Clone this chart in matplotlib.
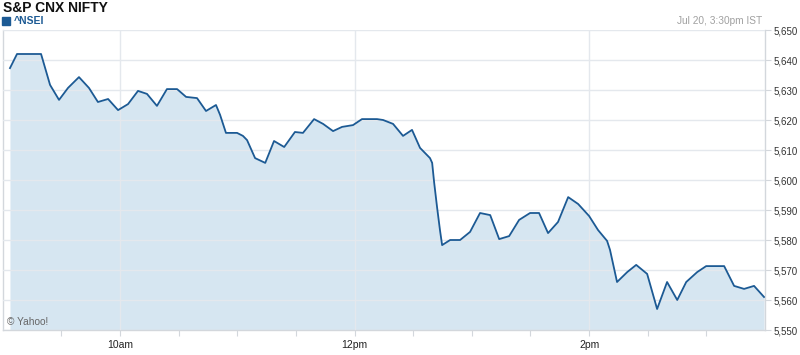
import numpy as np
import matplotlib
matplotlib.use("Agg")
import matplotlib.pyplot as plt
from matplotlib.ticker import FixedLocator, FuncFormatter

plt.rcParams['font.family'] = ['Liberation Sans', 'DejaVu Sans']

# minutes after 9:00 and index level
minutes = [3.7, 7.3, 19.6, 24.2, 28.8, 33.4, 39.0, 44.1, 48.7, 53.9,
           59.0, 64.1, 69.2, 73.8, 78.9, 84.0, 89.2, 93.8, 99.4, 104.0,
           109.1, 111.2, 114.2, 119.9, 122.9, 125.0, 129.1, 134.3, 138.8, 144.0,
           149.5, 153.6, 159.3, 163.9, 169.0, 173.6, 179.2, 183.8, 191.5, 194.6,
           199.7, 204.8, 209.4, 213.5, 218.6, 219.7, 220.7, 222.2, 223.7, 224.8,
           228.9, 234.0, 239.1, 244.2, 249.4, 254.0, 259.1, 264.2, 269.8, 274.4,
           279.0, 284.1, 289.3, 294.4, 300.0, 304.6, 309.2, 310.7, 314.3, 319.5,
           324.1, 329.7, 334.8, 339.9, 345.1, 349.7, 355.3, 359.9, 369.1, 374.2,
           379.3, 384.4, 389.5]
nifty = [5637.3, 5642.0, 5642.0, 5631.7, 5626.7, 5630.7, 5634.3, 5630.7, 5626.0, 5627.0,
         5623.3, 5625.3, 5629.7, 5628.7, 5624.7, 5630.3, 5630.3, 5627.7, 5627.3, 5623.0,
         5625.0, 5621.7, 5615.7, 5615.7, 5614.7, 5613.3, 5607.3, 5605.7, 5613.0, 5611.0,
         5616.0, 5615.7, 5620.3, 5618.7, 5616.3, 5617.7, 5618.3, 5620.3, 5620.3, 5620.0,
         5618.7, 5614.7, 5616.7, 5610.7, 5607.3, 5605.7, 5599.3, 5591.0, 5583.3, 5578.3,
         5580.0, 5580.0, 5582.7, 5589.0, 5588.3, 5580.3, 5581.3, 5586.7, 5589.0, 5589.0,
         5582.3, 5586.0, 5594.3, 5592.0, 5588.0, 5583.3, 5579.7, 5576.7, 5566.0, 5569.3,
         5571.7, 5568.7, 5557.0, 5566.0, 5560.0, 5566.0, 5569.3, 5571.3, 5571.3, 5564.7,
         5563.7, 5564.7, 5561.0]

y_ticks = [5550, 5560, 5570, 5580, 5590, 5600, 5610, 5620, 5630, 5640, 5650]
x_major = [60, 180, 300]
x_labels = ["10am", "12pm", "2pm"]
x_minor = [30, 90, 120, 150, 210, 240, 270, 330, 360]

line_col = "#1c5a94"
fill_col = "#d6e6f1"
grid_col = "#e4e8ed"
edge_col = "#d3d7dc"

fig = plt.figure(figsize=(8, 3.55), dpi=100)
ax = fig.add_axes([2.75 / 800, 25 / 355, (765 - 2.75) / 800, 300 / 355])

ax.fill_between(minutes, nifty, 5550, color=fill_col, lw=0, zorder=1)
ax.plot(minutes, nifty, color=line_col, lw=1.3, zorder=3)

ax.set_xlim(0, 390)
ax.set_ylim(5550, 5650)

ax.yaxis.tick_right()
ax.set_yticks(y_ticks)
ax.yaxis.set_major_formatter(FuncFormatter(lambda v, p: f"{int(v):,}"))
ax.tick_params(axis='y', which='major', length=4, width=0.8, color=edge_col,
               labelsize=7, labelcolor="#333333", pad=2)

ax.xaxis.set_major_locator(FixedLocator(x_major))
ax.set_xticklabels(x_labels)
ax.xaxis.set_minor_locator(FixedLocator(x_minor))
ax.tick_params(axis='x', which='both', length=4, width=0.8, color=edge_col,
               labelsize=7.5, labelcolor="#222222", pad=3)

ax.grid(axis='y', color=grid_col, lw=1, zorder=2)
ax.grid(axis='x', which='major', color=grid_col, lw=1, zorder=2)
ax.set_axisbelow(False)

for side in ['left', 'bottom', 'right']:
    ax.spines[side].set_color(edge_col)
    ax.spines[side].set_linewidth(1)
ax.spines['top'].set_visible(False)

fig.text(3 / 800, 1 - 8 / 355, "S&P CNX NIFTY", fontsize=10, fontweight='bold',
         color="#111111", va='center', ha='left')
fig.patches.append(plt.Rectangle((2 / 800, 1 - 25 / 355), 8 / 800, 8 / 355,
                                 transform=fig.transFigure, color=line_col))
fig.text(14 / 800, 1 - 21 / 355, "^NSEI", fontsize=7.5, fontweight='bold',
         color=line_col, va='center', ha='left')
fig.text(762 / 800, 1 - 21 / 355, "Jul 20, 3:30pm IST", fontsize=7.3,
         color="#a0a0a0", va='center', ha='right')
ax.text(0.005, 0.01, "© Yahoo!", transform=ax.transAxes, fontsize=7.3,
        color="#666666", va='bottom', ha='left', zorder=4)

fig.savefig("out.png", dpi=100)
